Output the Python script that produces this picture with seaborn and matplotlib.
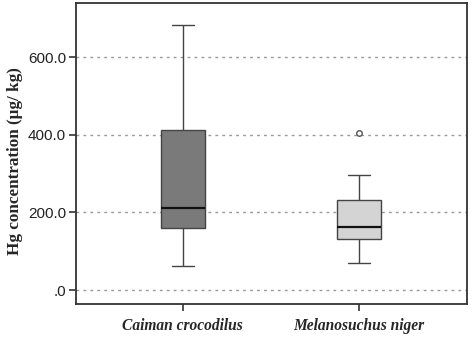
import matplotlib
matplotlib.use("Agg")
import matplotlib.pyplot as plt
import seaborn as sns
import pandas as pd
from matplotlib.ticker import FuncFormatter

species = ["Caiman crocodilus", "Melanosuchus niger"]
caiman_values = [62, 160, 211, 412, 682]
melanosuchus_values = [70, 100, 131, 150, 162, 200, 232, 296, 404]
box_colors = ["#7a7a7a", "#d4d4d4"]
y_ticks = [0, 200, 400, 600]

df = pd.DataFrame({
    "species": [species[0]] * len(caiman_values) + [species[1]] * len(melanosuchus_values),
    "hg": caiman_values + melanosuchus_values,
})

sns.set_style("white")
fig = plt.figure(figsize=(4.74, 3.48), dpi=100)
ax = fig.add_axes([0.160, 0.126, 0.825, 0.865])

for y in y_ticks:
    ax.axhline(y, color="#999999", linestyle=(0, (2, 3)), linewidth=1.0, zorder=0)

sns.boxplot(
    data=df, x="species", y="hg", order=species, hue="species", hue_order=species,
    palette=box_colors, width=0.25, linewidth=1.0, legend=False, ax=ax,
    boxprops=dict(edgecolor="#444444"),
    whiskerprops=dict(color="#444444"),
    capprops=dict(color="#444444"),
    medianprops=dict(color="#111111", linewidth=1.6),
    flierprops=dict(marker="o", markersize=4, markerfacecolor="white",
                    markeredgecolor="#555555", markeredgewidth=1.0),
    whis=1.5, zorder=2,
)

ax.set_xlim(-0.608, 1.614)
ax.set_ylim(-36, 739)
ax.set_yticks(y_ticks)
ax.yaxis.set_major_formatter(FuncFormatter(lambda v, p: ".0" if abs(v) < 1e-9 else "%.1f" % v))
ax.set_xlabel("")
ax.set_ylabel("Hg concentration (μg/ kg)", family="Liberation Serif", fontweight="bold",
              fontsize=12.3)
ax.yaxis.set_label_coords(-0.135, 0.475)
for lab in ax.get_yticklabels():
    lab.set_family("Liberation Sans")
    lab.set_fontsize(11)
    lab.set_color("#222222")
ax.set_xticks([0, 1])
ax.set_xticklabels(species, family="Liberation Serif", fontweight="bold",
                   fontstyle="italic", fontsize=11.2)
ax.tick_params(axis="both", which="both", direction="out", length=5, width=1.2,
               color="#333333", left=True, bottom=True)
ax.tick_params(axis="x", pad=5)
ax.tick_params(axis="y", pad=2)
for s in ax.spines.values():
    s.set_visible(True)
    s.set_color("#333333")
    s.set_linewidth(1.3)

fig.savefig("out.png", dpi=100)
